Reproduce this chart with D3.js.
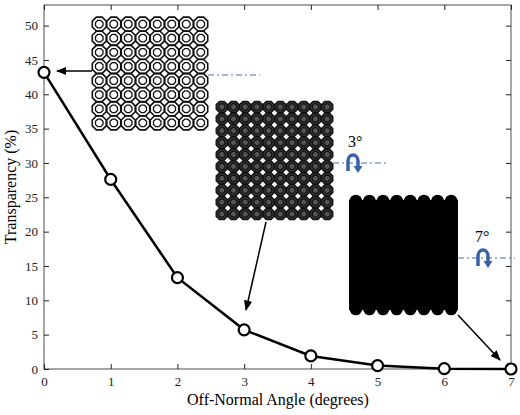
<!DOCTYPE html><html><head><script src="https://cdn.jsdelivr.net/npm/d3@7"></script>
<style>body{margin:0;background:#fff}</style></head><body>
<svg id="c" width="520" height="415"></svg>
<script>
const FF="'Liberation Serif','Times New Roman','DejaVu Serif',serif";
const angles=[0,1,2,3,4,5,6,7];
const transparency=[43.2,27.6,13.3,5.7,1.9,0.5,0.05,0];
const xTicks=[0,1,2,3,4,5,6,7];
const yTicks=[0,5,10,15,20,25,30,35,40,45,50];
const svg=d3.select("#c").style("font-family",FF);
const x=d3.scaleLinear().domain([0,7]).range([44,511]);
const y=d3.scaleLinear().domain([0,53]).range([369,5]);
svg.append("rect").attr("x",44).attr("y",5).attr("width",467).attr("height",364).attr("fill","none").attr("stroke","#222").attr("stroke-width",0.8);
const fmt=d3.format("d");
const xa=svg.append("g").attr("transform","translate(0,369)").call(d3.axisBottom(x).tickValues(xTicks).tickFormat(fmt).tickSize(-5).tickPadding(8));
const xt=svg.append("g").attr("transform","translate(0,5)").call(d3.axisTop(x).tickValues(xTicks).tickSize(-5).tickFormat(""));
const ya=svg.append("g").attr("transform","translate(44,0)").call(d3.axisLeft(y).tickValues(yTicks).tickFormat(fmt).tickSize(-5).tickPadding(6));
const yr=svg.append("g").attr("transform","translate(511,0)").call(d3.axisRight(y).tickValues(yTicks).tickSize(-5).tickFormat(""));
[xa,xt,ya,yr].forEach(g=>{g.attr("font-family",null).style("font-family",FF);g.select(".domain").remove();g.selectAll("line").attr("stroke","#222");g.selectAll("text").attr("font-size",13).attr("fill","#222");});
svg.append("text").attr("x",278).attr("y",405).attr("text-anchor","middle").attr("font-size",16).text("Off-Normal Angle (degrees)");
svg.append("text").attr("transform","translate(16,187) rotate(-90)").attr("text-anchor","middle").attr("font-size",16).text("Transparency (%)");
const oct=(cx,cy,r)=>{let p=[];for(let i=0;i<8;i++){const a=Math.PI/8+i*Math.PI/4;p.push([cx+r*Math.cos(a),cy+r*Math.sin(a)]);}return "M"+p.join("L")+"Z";};
function grid(x0,y0,w,h,n,fillOuter,inner,sw){const g=svg.append("g");const s=w/n;
 for(let i=0;i<n;i++)for(let j=0;j<n;j++){const cx=x0+s*(i+.5),cy=y0+(h/n)*(j+.5);
  g.append("path").attr("d",oct(cx,cy,s*0.52)).attr("fill",fillOuter).attr("stroke","#111").attr("stroke-width",sw);
  g.append("path").attr("d",oct(cx,cy,s*0.28)).attr("fill",inner).attr("stroke","#111").attr("stroke-width",sw*0.8);}}
grid(92,17,116,113,8,"none","none",1.6);
grid(216,101,117,119,10,"#333","#555",1.4);
svg.append("rect").attr("x",349).attr("y",200).attr("width",109).attr("height",110).attr("fill","#000");
for(let i=0;i<8;i++){const cx=349+109/8*(i+.5);svg.append("circle").attr("cx",cx).attr("cy",201).attr("r",6.3).attr("fill","#000");svg.append("circle").attr("cx",cx).attr("cy",309).attr("r",6.3).attr("fill","#000");}
[[208,260,75],[333,388,163],[458,515,258]].forEach(d=>svg.append("line").attr("x1",d[0]).attr("x2",d[1]).attr("y1",d[2]).attr("y2",d[2]).attr("stroke","#4a6fb0").attr("stroke-width",1.2).attr("stroke-dasharray","6,3,2,3"));
function rot(cx,cy){svg.append("path").attr("d",`M${cx-5},${cy+8} L${cx-5},${cy-2} A5,6 0 0 1 ${cx+5},${cy-2} L${cx+5},${cy+3}`).attr("fill","none").attr("stroke","#3a62a8").attr("stroke-width",3.5);
 svg.append("path").attr("d",`M${cx+0.5},${cy+3} L${cx+9.5},${cy+3} L${cx+5},${cy+10}Z`).attr("fill","#3a62a8");}
rot(353,163);rot(483,258);
svg.append("text").attr("x",348).attr("y",147).attr("font-size",16).text("3°");
svg.append("text").attr("x",475).attr("y",242).attr("font-size",16).text("7°");
svg.append("defs").append("marker").attr("id","ah").attr("viewBox","0 0 10 10").attr("refX",9).attr("refY",5).attr("markerWidth",7).attr("markerHeight",7).attr("orient","auto").append("path").attr("d","M0,1L10,5L0,9Z").attr("fill","#000");
[[92,71,57,71],[266,222,246,310],[458,315,500,360]].forEach(a=>svg.append("line").attr("x1",a[0]).attr("y1",a[1]).attr("x2",a[2]).attr("y2",a[3]).attr("stroke","#000").attr("stroke-width",1.5).attr("marker-end","url(#ah)"));
svg.append("path").datum(angles.map((a,i)=>[a,transparency[i]])).attr("d",d3.line().x(d=>x(d[0])).y(d=>y(d[1]))).attr("fill","none").attr("stroke","#000").attr("stroke-width",2.5);
svg.selectAll(".pt").data(angles).enter().append("circle").attr("cx",d=>x(d)).attr("cy",(d,i)=>y(transparency[i])).attr("r",5.5).attr("fill","#fff").attr("stroke","#000").attr("stroke-width",2.2);
</script></body></html>
